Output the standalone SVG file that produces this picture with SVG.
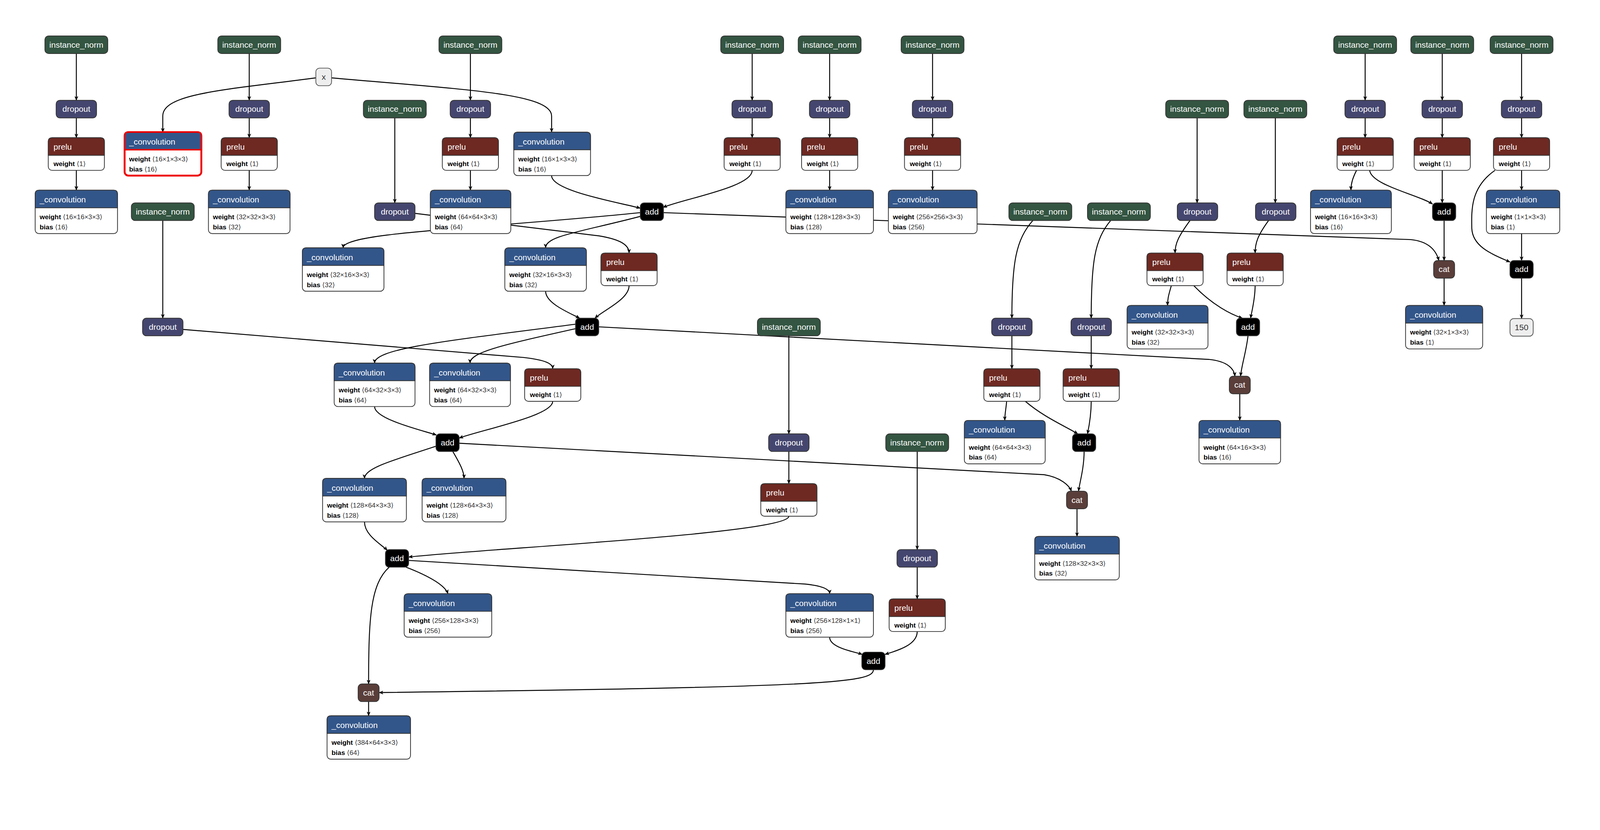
<svg xmlns="http://www.w3.org/2000/svg" width="4266" height="2124" viewBox="0 0 4266 2124">
<style>
text{font-family:"Liberation Sans","DejaVu Sans",sans-serif}
.n{font-size:22px;fill:#fff;text-anchor:middle}
.h{font-size:22px;fill:#fff}
.b{font-size:18px;fill:#333}
.b tspan.k{font-weight:bold;fill:#000}
.in{fill:#335541;stroke:#333;stroke-width:2}
.dr{fill:#45466f;stroke:#333;stroke-width:2}
.pr{fill:#6e2922;stroke:#333;stroke-width:2}
.cv{fill:#33568a;stroke:#333;stroke-width:2}
.ad{fill:#000;stroke:#333;stroke-width:2}
.ct{fill:#5a3e3a;stroke:#333;stroke-width:2}
.io{fill:#eee;stroke:#555;stroke-width:2}
.bd{fill:#fff;stroke:#333;stroke-width:2}
.red{fill:#fff;stroke:#e00;stroke-width:5}
.e path{fill:none;stroke:#000;stroke-width:2.5;marker-end:url(#ar)}
.gt{font-size:22px;fill:#333;text-anchor:middle}
</style>
<defs><marker id="ar" viewBox="0 0 12 10" refX="11" refY="5" markerWidth="12" markerHeight="10" markerUnits="userSpaceOnUse" orient="auto"><path d="M0,0 L12,5 L0,10 L3,5 z" fill="#000"/></marker></defs>
<g id="diagram" transform="scale(0.958)">
<g class="e">
<path d="M204,143 V268"/><path d="M204,315 V368"/><path d="M204,455 V508"/>
<path d="M666,143 V268"/><path d="M666,315 V368"/><path d="M666,455 V508"/>
<path d="M1257,143 V268"/><path d="M1257,315 V368"/><path d="M1257,455 V508"/>
<path d="M2010,143 V268"/><path d="M2010,315 V368"/>
<path d="M2217,143 V268"/><path d="M2217,315 V368"/><path d="M2217,455 V508"/>
<path d="M2492,143 V268"/><path d="M2492,315 V368"/><path d="M2492,455 V508"/>
<path d="M3648,143 V268"/><path d="M3648,315 V368"/>
<path d="M3854,143 V268"/><path d="M3854,315 V368"/><path d="M3854,455 V542"/>
<path d="M4066,143 V268"/><path d="M4066,315 V368"/><path d="M4066,455 V508"/>
<path d="M435,589 V850"/><path d="M1055,315 V542"/>
<path d="M3199,315 V542"/><path d="M3408,315 V542"/>
<path d="M2108,897 V1159"/><path d="M2108,1206 V1292"/>
<path d="M2451,1206 V1468"/><path d="M2451,1515 V1600"/>
<path d="M2704,897 V985"/><path d="M2916,897 V985"/>
<path d="M3859,589 V696"/><path d="M3859,743 V816"/>
<path d="M4066,624 V696"/><path d="M4066,743 V851"/>
<path d="M3313,1052 V1123"/><path d="M2878,1359 V1433"/><path d="M985,1873 V1912"/>
<path d="M844,208 C600,240 435,250 435,310 V353"/>
<path d="M886,208 C1250,240 1474,250 1474,310 V353"/>
<path d="M1474,469 C1474,510 1650,540 1711,556"/>
<path d="M2010,455 C2010,500 1830,530 1772,554"/>
<path d="M1711,568 C1300,610 917,620 917,662"/>
<path d="M1711,578 C1550,620 1458,630 1458,662"/>
<path d="M1772,568 L3770,640 C3820,645 3838,670 3845,696"/>
<path d="M1109,570 L1600,630 C1660,640 1681,655 1681,676"/>
<path d="M1458,778 C1458,810 1520,835 1549,850"/>
<path d="M1681,763 C1681,800 1610,830 1590,850"/>
<path d="M1538,866 C1200,910 1001,930 1001,970"/>
<path d="M1538,878 C1350,920 1256,940 1256,970"/>
<path d="M1600,873 L3230,960 C3280,965 3298,985 3300,1005"/>
<path d="M489,880 L1400,955 C1460,962 1477,972 1477,985"/>
<path d="M1001,1086 C1001,1120 1130,1150 1166,1162"/>
<path d="M1477,1072 C1477,1110 1300,1145 1227,1170"/>
<path d="M1165,1192 C1050,1230 974,1250 974,1278"/>
<path d="M1210,1206 C1230,1240 1240,1260 1240,1278"/>
<path d="M1227,1184 L2790,1268 C2835,1275 2858,1298 2863,1312"/>
<path d="M974,1394 C974,1430 1020,1455 1035,1470"/>
<path d="M2108,1379 C2108,1425 1300,1465 1092,1488"/>
<path d="M1085,1515 C1150,1540 1190,1565 1197,1586"/>
<path d="M1092,1497 L2150,1560 C2200,1565 2217,1575 2217,1586"/>
<path d="M1040,1515 C990,1560 985,1650 985,1827"/>
<path d="M2217,1702 C2217,1730 2280,1740 2304,1748"/>
<path d="M2451,1687 C2451,1725 2390,1740 2365,1748"/>
<path d="M2334,1789 C2334,1825 2200,1835 1013,1850"/>
<path d="M2760,589 C2715,640 2704,700 2704,850"/>
<path d="M2968,589 C2925,640 2916,700 2916,850"/>
<path d="M2690,1072 C2688,1095 2685,1105 2685,1123"/>
<path d="M2740,1072 C2790,1115 2850,1140 2880,1159"/>
<path d="M2916,1072 C2916,1110 2910,1140 2906,1159"/>
<path d="M2897,1206 C2897,1250 2885,1290 2882,1312"/>
<path d="M3180,589 C3150,630 3140,650 3140,676"/>
<path d="M3390,589 C3360,630 3354,650 3354,676"/>
<path d="M3130,763 C3124,785 3120,795 3120,816"/>
<path d="M3190,763 C3240,815 3290,840 3320,850"/>
<path d="M3354,763 C3354,800 3345,830 3342,850"/>
<path d="M3335,897 C3330,940 3318,975 3315,1005"/>
<path d="M3625,455 C3615,475 3610,490 3610,508"/>
<path d="M3660,455 C3665,495 3790,520 3828,545"/>
<path d="M3995,455 C3930,500 3932,560 3933,610 C3935,660 3990,680 4035,700"/>
</g>
<g id="in1"><rect class="in" x="120" y="96" width="168" height="47" rx="10"/><text class="n" x="204" y="127">instance_norm</text></g>
<g id="in2"><rect class="in" x="582" y="96" width="168" height="47" rx="10"/><text class="n" x="666" y="127">instance_norm</text></g>
<g id="in3"><rect class="in" x="1173" y="96" width="168" height="47" rx="10"/><text class="n" x="1257" y="127">instance_norm</text></g>
<g id="in4"><rect class="in" x="1926" y="96" width="168" height="47" rx="10"/><text class="n" x="2010" y="127">instance_norm</text></g>
<g id="in5"><rect class="in" x="2133" y="96" width="168" height="47" rx="10"/><text class="n" x="2217" y="127">instance_norm</text></g>
<g id="in6"><rect class="in" x="2408" y="96" width="168" height="47" rx="10"/><text class="n" x="2492" y="127">instance_norm</text></g>
<g id="in7"><rect class="in" x="3564" y="96" width="168" height="47" rx="10"/><text class="n" x="3648" y="127">instance_norm</text></g>
<g id="in8"><rect class="in" x="3770" y="96" width="168" height="47" rx="10"/><text class="n" x="3854" y="127">instance_norm</text></g>
<g id="in9"><rect class="in" x="3982" y="96" width="168" height="47" rx="10"/><text class="n" x="4066" y="127">instance_norm</text></g>
<g id="in10"><rect class="in" x="351" y="542" width="168" height="47" rx="10"/><text class="n" x="435" y="573">instance_norm</text></g>
<g id="in11"><rect class="in" x="971" y="268" width="168" height="47" rx="10"/><text class="n" x="1055" y="299">instance_norm</text></g>
<g id="in12"><rect class="in" x="3115" y="268" width="168" height="47" rx="10"/><text class="n" x="3199" y="299">instance_norm</text></g>
<g id="in13"><rect class="in" x="3324" y="268" width="168" height="47" rx="10"/><text class="n" x="3408" y="299">instance_norm</text></g>
<g id="in14"><rect class="in" x="2696" y="542" width="168" height="47" rx="10"/><text class="n" x="2780" y="573">instance_norm</text></g>
<g id="in15"><rect class="in" x="2906" y="542" width="168" height="47" rx="10"/><text class="n" x="2990" y="573">instance_norm</text></g>
<g id="in16"><rect class="in" x="2024" y="850" width="168" height="47" rx="10"/><text class="n" x="2108" y="881">instance_norm</text></g>
<g id="in17"><rect class="in" x="2367" y="1159" width="168" height="47" rx="10"/><text class="n" x="2451" y="1190">instance_norm</text></g>
<g id="d1"><rect class="dr" x="150" y="268" width="108" height="47" rx="10"/><text class="n" x="204" y="299">dropout</text></g>
<g id="d2"><rect class="dr" x="612" y="268" width="108" height="47" rx="10"/><text class="n" x="666" y="299">dropout</text></g>
<g id="d3"><rect class="dr" x="1203" y="268" width="108" height="47" rx="10"/><text class="n" x="1257" y="299">dropout</text></g>
<g id="d4"><rect class="dr" x="1956" y="268" width="108" height="47" rx="10"/><text class="n" x="2010" y="299">dropout</text></g>
<g id="d5"><rect class="dr" x="2163" y="268" width="108" height="47" rx="10"/><text class="n" x="2217" y="299">dropout</text></g>
<g id="d6"><rect class="dr" x="2438" y="268" width="108" height="47" rx="10"/><text class="n" x="2492" y="299">dropout</text></g>
<g id="d7"><rect class="dr" x="3594" y="268" width="108" height="47" rx="10"/><text class="n" x="3648" y="299">dropout</text></g>
<g id="d8"><rect class="dr" x="3800" y="268" width="108" height="47" rx="10"/><text class="n" x="3854" y="299">dropout</text></g>
<g id="d9"><rect class="dr" x="4012" y="268" width="108" height="47" rx="10"/><text class="n" x="4066" y="299">dropout</text></g>
<g id="d10"><rect class="dr" x="381" y="850" width="108" height="47" rx="10"/><text class="n" x="435" y="881">dropout</text></g>
<g id="d11"><rect class="dr" x="1001" y="542" width="108" height="47" rx="10"/><text class="n" x="1055" y="573">dropout</text></g>
<g id="d12"><rect class="dr" x="3146" y="542" width="108" height="47" rx="10"/><text class="n" x="3200" y="573">dropout</text></g>
<g id="d13"><rect class="dr" x="3355" y="542" width="108" height="47" rx="10"/><text class="n" x="3409" y="573">dropout</text></g>
<g id="d14"><rect class="dr" x="2650" y="850" width="108" height="47" rx="10"/><text class="n" x="2704" y="881">dropout</text></g>
<g id="d15"><rect class="dr" x="2862" y="850" width="108" height="47" rx="10"/><text class="n" x="2916" y="881">dropout</text></g>
<g id="d16"><rect class="dr" x="2054" y="1159" width="108" height="47" rx="10"/><text class="n" x="2108" y="1190">dropout</text></g>
<g id="d17"><rect class="dr" x="2397" y="1468" width="108" height="47" rx="10"/><text class="n" x="2451" y="1499">dropout</text></g>
<g id="p1"><rect class="bd" x="129" y="368" width="150" height="87" rx="10"/><path class="pr" d="M129,415 v-37 q0,-10 10,-10 h130 q10,0 10,10 v37 z"/><text class="h" x="143" y="400">prelu</text><text class="b" x="143" y="444"><tspan class="k">weight</tspan> ⟨1⟩</text></g>
<g id="p2"><rect class="bd" x="591" y="368" width="150" height="87" rx="10"/><path class="pr" d="M591,415 v-37 q0,-10 10,-10 h130 q10,0 10,10 v37 z"/><text class="h" x="605" y="400">prelu</text><text class="b" x="605" y="444"><tspan class="k">weight</tspan> ⟨1⟩</text></g>
<g id="p3"><rect class="bd" x="1182" y="368" width="150" height="87" rx="10"/><path class="pr" d="M1182,415 v-37 q0,-10 10,-10 h130 q10,0 10,10 v37 z"/><text class="h" x="1196" y="400">prelu</text><text class="b" x="1196" y="444"><tspan class="k">weight</tspan> ⟨1⟩</text></g>
<g id="p4"><rect class="bd" x="1935" y="368" width="150" height="87" rx="10"/><path class="pr" d="M1935,415 v-37 q0,-10 10,-10 h130 q10,0 10,10 v37 z"/><text class="h" x="1949" y="400">prelu</text><text class="b" x="1949" y="444"><tspan class="k">weight</tspan> ⟨1⟩</text></g>
<g id="p5"><rect class="bd" x="2142" y="368" width="150" height="87" rx="10"/><path class="pr" d="M2142,415 v-37 q0,-10 10,-10 h130 q10,0 10,10 v37 z"/><text class="h" x="2156" y="400">prelu</text><text class="b" x="2156" y="444"><tspan class="k">weight</tspan> ⟨1⟩</text></g>
<g id="p6"><rect class="bd" x="2417" y="368" width="150" height="87" rx="10"/><path class="pr" d="M2417,415 v-37 q0,-10 10,-10 h130 q10,0 10,10 v37 z"/><text class="h" x="2431" y="400">prelu</text><text class="b" x="2431" y="444"><tspan class="k">weight</tspan> ⟨1⟩</text></g>
<g id="p7"><rect class="bd" x="3573" y="368" width="150" height="87" rx="10"/><path class="pr" d="M3573,415 v-37 q0,-10 10,-10 h130 q10,0 10,10 v37 z"/><text class="h" x="3587" y="400">prelu</text><text class="b" x="3587" y="444"><tspan class="k">weight</tspan> ⟨1⟩</text></g>
<g id="p8"><rect class="bd" x="3779" y="368" width="150" height="87" rx="10"/><path class="pr" d="M3779,415 v-37 q0,-10 10,-10 h130 q10,0 10,10 v37 z"/><text class="h" x="3793" y="400">prelu</text><text class="b" x="3793" y="444"><tspan class="k">weight</tspan> ⟨1⟩</text></g>
<g id="p9"><rect class="bd" x="3991" y="368" width="150" height="87" rx="10"/><path class="pr" d="M3991,415 v-37 q0,-10 10,-10 h130 q10,0 10,10 v37 z"/><text class="h" x="4005" y="400">prelu</text><text class="b" x="4005" y="444"><tspan class="k">weight</tspan> ⟨1⟩</text></g>
<g id="p10"><rect class="bd" x="1402" y="985" width="150" height="87" rx="10"/><path class="pr" d="M1402,1032 v-37 q0,-10 10,-10 h130 q10,0 10,10 v37 z"/><text class="h" x="1416" y="1017">prelu</text><text class="b" x="1416" y="1061"><tspan class="k">weight</tspan> ⟨1⟩</text></g>
<g id="p11"><rect class="bd" x="1606" y="676" width="150" height="87" rx="10"/><path class="pr" d="M1606,723 v-37 q0,-10 10,-10 h130 q10,0 10,10 v37 z"/><text class="h" x="1620" y="708">prelu</text><text class="b" x="1620" y="752"><tspan class="k">weight</tspan> ⟨1⟩</text></g>
<g id="p12"><rect class="bd" x="3065" y="676" width="150" height="87" rx="10"/><path class="pr" d="M3065,723 v-37 q0,-10 10,-10 h130 q10,0 10,10 v37 z"/><text class="h" x="3079" y="708">prelu</text><text class="b" x="3079" y="752"><tspan class="k">weight</tspan> ⟨1⟩</text></g>
<g id="p13"><rect class="bd" x="3279" y="676" width="150" height="87" rx="10"/><path class="pr" d="M3279,723 v-37 q0,-10 10,-10 h130 q10,0 10,10 v37 z"/><text class="h" x="3293" y="708">prelu</text><text class="b" x="3293" y="752"><tspan class="k">weight</tspan> ⟨1⟩</text></g>
<g id="p14"><rect class="bd" x="2629" y="985" width="150" height="87" rx="10"/><path class="pr" d="M2629,1032 v-37 q0,-10 10,-10 h130 q10,0 10,10 v37 z"/><text class="h" x="2643" y="1017">prelu</text><text class="b" x="2643" y="1061"><tspan class="k">weight</tspan> ⟨1⟩</text></g>
<g id="p15"><rect class="bd" x="2841" y="985" width="150" height="87" rx="10"/><path class="pr" d="M2841,1032 v-37 q0,-10 10,-10 h130 q10,0 10,10 v37 z"/><text class="h" x="2855" y="1017">prelu</text><text class="b" x="2855" y="1061"><tspan class="k">weight</tspan> ⟨1⟩</text></g>
<g id="p16"><rect class="bd" x="2033" y="1292" width="150" height="87" rx="10"/><path class="pr" d="M2033,1339 v-37 q0,-10 10,-10 h130 q10,0 10,10 v37 z"/><text class="h" x="2047" y="1324">prelu</text><text class="b" x="2047" y="1368"><tspan class="k">weight</tspan> ⟨1⟩</text></g>
<g id="p17"><rect class="bd" x="2376" y="1600" width="150" height="87" rx="10"/><path class="pr" d="M2376,1647 v-37 q0,-10 10,-10 h130 q10,0 10,10 v37 z"/><text class="h" x="2390" y="1632">prelu</text><text class="b" x="2390" y="1676"><tspan class="k">weight</tspan> ⟨1⟩</text></g>
<g id="c1"><rect class="bd" x="94" y="508" width="220" height="116" rx="10"/><path class="cv" d="M94,555 v-37 q0,-10 10,-10 h200 q10,0 10,10 v37 z"/><text class="h" x="106" y="541">_convolution</text><text class="b" x="106" y="586"><tspan class="k">weight</tspan> ⟨16×16×3×3⟩</text><text class="b" x="106" y="613"><tspan class="k">bias</tspan> ⟨16⟩</text></g>
<g id="cred"><rect class="red" x="333" y="353" width="205" height="116" rx="10"/><path class="cv" style="stroke:#e00;stroke-width:4" d="M333,400 v-37 q0,-10 10,-10 h185 q10,0 10,10 v37 z"/><text class="h" x="345" y="386">_convolution</text><text class="b" x="345" y="431"><tspan class="k">weight</tspan> ⟨16×1×3×3⟩</text><text class="b" x="345" y="458"><tspan class="k">bias</tspan> ⟨16⟩</text></g>
<g id="c2"><rect class="bd" x="557" y="508" width="218" height="116" rx="10"/><path class="cv" d="M557,555 v-37 q0,-10 10,-10 h198 q10,0 10,10 v37 z"/><text class="h" x="569" y="541">_convolution</text><text class="b" x="569" y="586"><tspan class="k">weight</tspan> ⟨32×32×3×3⟩</text><text class="b" x="569" y="613"><tspan class="k">bias</tspan> ⟨32⟩</text></g>
<g id="cx2"><rect class="bd" x="1373" y="353" width="205" height="116" rx="10"/><path class="cv" d="M1373,400 v-37 q0,-10 10,-10 h185 q10,0 10,10 v37 z"/><text class="h" x="1385" y="386">_convolution</text><text class="b" x="1385" y="431"><tspan class="k">weight</tspan> ⟨16×1×3×3⟩</text><text class="b" x="1385" y="458"><tspan class="k">bias</tspan> ⟨16⟩</text></g>
<g id="c3"><rect class="bd" x="1150" y="508" width="215" height="116" rx="10"/><path class="cv" d="M1150,555 v-37 q0,-10 10,-10 h195 q10,0 10,10 v37 z"/><text class="h" x="1162" y="541">_convolution</text><text class="b" x="1162" y="586"><tspan class="k">weight</tspan> ⟨64×64×3×3⟩</text><text class="b" x="1162" y="613"><tspan class="k">bias</tspan> ⟨64⟩</text></g>
<g id="c4"><rect class="bd" x="2100" y="508" width="234" height="116" rx="10"/><path class="cv" d="M2100,555 v-37 q0,-10 10,-10 h214 q10,0 10,10 v37 z"/><text class="h" x="2112" y="541">_convolution</text><text class="b" x="2112" y="586"><tspan class="k">weight</tspan> ⟨128×128×3×3⟩</text><text class="b" x="2112" y="613"><tspan class="k">bias</tspan> ⟨128⟩</text></g>
<g id="c5"><rect class="bd" x="2374" y="508" width="237" height="116" rx="10"/><path class="cv" d="M2374,555 v-37 q0,-10 10,-10 h217 q10,0 10,10 v37 z"/><text class="h" x="2386" y="541">_convolution</text><text class="b" x="2386" y="586"><tspan class="k">weight</tspan> ⟨256×256×3×3⟩</text><text class="b" x="2386" y="613"><tspan class="k">bias</tspan> ⟨256⟩</text></g>
<g id="c6"><rect class="bd" x="3502" y="508" width="216" height="116" rx="10"/><path class="cv" d="M3502,555 v-37 q0,-10 10,-10 h196 q10,0 10,10 v37 z"/><text class="h" x="3514" y="541">_convolution</text><text class="b" x="3514" y="586"><tspan class="k">weight</tspan> ⟨16×16×3×3⟩</text><text class="b" x="3514" y="613"><tspan class="k">bias</tspan> ⟨16⟩</text></g>
<g id="c7"><rect class="bd" x="3972" y="508" width="196" height="116" rx="10"/><path class="cv" d="M3972,555 v-37 q0,-10 10,-10 h176 q10,0 10,10 v37 z"/><text class="h" x="3984" y="541">_convolution</text><text class="b" x="3984" y="586"><tspan class="k">weight</tspan> ⟨1×1×3×3⟩</text><text class="b" x="3984" y="613"><tspan class="k">bias</tspan> ⟨1⟩</text></g>
<g id="c8"><rect class="bd" x="808" y="662" width="218" height="116" rx="10"/><path class="cv" d="M808,709 v-37 q0,-10 10,-10 h198 q10,0 10,10 v37 z"/><text class="h" x="820" y="695">_convolution</text><text class="b" x="820" y="740"><tspan class="k">weight</tspan> ⟨32×16×3×3⟩</text><text class="b" x="820" y="767"><tspan class="k">bias</tspan> ⟨32⟩</text></g>
<g id="c9"><rect class="bd" x="1349" y="662" width="218" height="116" rx="10"/><path class="cv" d="M1349,709 v-37 q0,-10 10,-10 h198 q10,0 10,10 v37 z"/><text class="h" x="1361" y="695">_convolution</text><text class="b" x="1361" y="740"><tspan class="k">weight</tspan> ⟨32×16×3×3⟩</text><text class="b" x="1361" y="767"><tspan class="k">bias</tspan> ⟨32⟩</text></g>
<g id="c10"><rect class="bd" x="3012" y="816" width="216" height="116" rx="10"/><path class="cv" d="M3012,863 v-37 q0,-10 10,-10 h196 q10,0 10,10 v37 z"/><text class="h" x="3024" y="849">_convolution</text><text class="b" x="3024" y="894"><tspan class="k">weight</tspan> ⟨32×32×3×3⟩</text><text class="b" x="3024" y="921"><tspan class="k">bias</tspan> ⟨32⟩</text></g>
<g id="c11"><rect class="bd" x="3756" y="816" width="206" height="116" rx="10"/><path class="cv" d="M3756,863 v-37 q0,-10 10,-10 h186 q10,0 10,10 v37 z"/><text class="h" x="3768" y="849">_convolution</text><text class="b" x="3768" y="894"><tspan class="k">weight</tspan> ⟨32×1×3×3⟩</text><text class="b" x="3768" y="921"><tspan class="k">bias</tspan> ⟨1⟩</text></g>
<g id="c12"><rect class="bd" x="893" y="970" width="216" height="116" rx="10"/><path class="cv" d="M893,1017 v-37 q0,-10 10,-10 h196 q10,0 10,10 v37 z"/><text class="h" x="905" y="1003">_convolution</text><text class="b" x="905" y="1048"><tspan class="k">weight</tspan> ⟨64×32×3×3⟩</text><text class="b" x="905" y="1075"><tspan class="k">bias</tspan> ⟨64⟩</text></g>
<g id="c13"><rect class="bd" x="1148" y="970" width="216" height="116" rx="10"/><path class="cv" d="M1148,1017 v-37 q0,-10 10,-10 h196 q10,0 10,10 v37 z"/><text class="h" x="1160" y="1003">_convolution</text><text class="b" x="1160" y="1048"><tspan class="k">weight</tspan> ⟨64×32×3×3⟩</text><text class="b" x="1160" y="1075"><tspan class="k">bias</tspan> ⟨64⟩</text></g>
<g id="c14"><rect class="bd" x="2577" y="1123" width="216" height="116" rx="10"/><path class="cv" d="M2577,1170 v-37 q0,-10 10,-10 h196 q10,0 10,10 v37 z"/><text class="h" x="2589" y="1156">_convolution</text><text class="b" x="2589" y="1201"><tspan class="k">weight</tspan> ⟨64×64×3×3⟩</text><text class="b" x="2589" y="1228"><tspan class="k">bias</tspan> ⟨64⟩</text></g>
<g id="c15"><rect class="bd" x="3204" y="1123" width="218" height="116" rx="10"/><path class="cv" d="M3204,1170 v-37 q0,-10 10,-10 h198 q10,0 10,10 v37 z"/><text class="h" x="3216" y="1156">_convolution</text><text class="b" x="3216" y="1201"><tspan class="k">weight</tspan> ⟨64×16×3×3⟩</text><text class="b" x="3216" y="1228"><tspan class="k">bias</tspan> ⟨16⟩</text></g>
<g id="c16"><rect class="bd" x="862" y="1278" width="224" height="116" rx="10"/><path class="cv" d="M862,1325 v-37 q0,-10 10,-10 h204 q10,0 10,10 v37 z"/><text class="h" x="874" y="1311">_convolution</text><text class="b" x="874" y="1356"><tspan class="k">weight</tspan> ⟨128×64×3×3⟩</text><text class="b" x="874" y="1383"><tspan class="k">bias</tspan> ⟨128⟩</text></g>
<g id="c17"><rect class="bd" x="1128" y="1278" width="224" height="116" rx="10"/><path class="cv" d="M1128,1325 v-37 q0,-10 10,-10 h204 q10,0 10,10 v37 z"/><text class="h" x="1140" y="1311">_convolution</text><text class="b" x="1140" y="1356"><tspan class="k">weight</tspan> ⟨128×64×3×3⟩</text><text class="b" x="1140" y="1383"><tspan class="k">bias</tspan> ⟨128⟩</text></g>
<g id="c18"><rect class="bd" x="2765" y="1433" width="226" height="116" rx="10"/><path class="cv" d="M2765,1480 v-37 q0,-10 10,-10 h206 q10,0 10,10 v37 z"/><text class="h" x="2777" y="1466">_convolution</text><text class="b" x="2777" y="1511"><tspan class="k">weight</tspan> ⟨128×32×3×3⟩</text><text class="b" x="2777" y="1538"><tspan class="k">bias</tspan> ⟨32⟩</text></g>
<g id="c19"><rect class="bd" x="1080" y="1586" width="234" height="116" rx="10"/><path class="cv" d="M1080,1633 v-37 q0,-10 10,-10 h214 q10,0 10,10 v37 z"/><text class="h" x="1092" y="1619">_convolution</text><text class="b" x="1092" y="1664"><tspan class="k">weight</tspan> ⟨256×128×3×3⟩</text><text class="b" x="1092" y="1691"><tspan class="k">bias</tspan> ⟨256⟩</text></g>
<g id="c20"><rect class="bd" x="2100" y="1586" width="234" height="116" rx="10"/><path class="cv" d="M2100,1633 v-37 q0,-10 10,-10 h214 q10,0 10,10 v37 z"/><text class="h" x="2112" y="1619">_convolution</text><text class="b" x="2112" y="1664"><tspan class="k">weight</tspan> ⟨256×128×1×1⟩</text><text class="b" x="2112" y="1691"><tspan class="k">bias</tspan> ⟨256⟩</text></g>
<g id="c21"><rect class="bd" x="874" y="1912" width="223" height="116" rx="10"/><path class="cv" d="M874,1959 v-37 q0,-10 10,-10 h203 q10,0 10,10 v37 z"/><text class="h" x="886" y="1945">_convolution</text><text class="b" x="886" y="1990"><tspan class="k">weight</tspan> ⟨384×64×3×3⟩</text><text class="b" x="886" y="2017"><tspan class="k">bias</tspan> ⟨64⟩</text></g>
<g id="a1"><rect class="ad" x="1711" y="542" width="62" height="47" rx="10"/><text class="n" x="1742" y="573">add</text></g>
<g id="a2"><rect class="ad" x="1538" y="850" width="62" height="47" rx="10"/><text class="n" x="1569" y="881">add</text></g>
<g id="a3"><rect class="ad" x="1165" y="1159" width="62" height="47" rx="10"/><text class="n" x="1196" y="1190">add</text></g>
<g id="a4"><rect class="ad" x="1030" y="1468" width="62" height="47" rx="10"/><text class="n" x="1061" y="1499">add</text></g>
<g id="a5"><rect class="ad" x="2303" y="1742" width="62" height="47" rx="10"/><text class="n" x="2334" y="1773">add</text></g>
<g id="a6"><rect class="ad" x="2866" y="1159" width="62" height="47" rx="10"/><text class="n" x="2897" y="1190">add</text></g>
<g id="a7"><rect class="ad" x="3304" y="850" width="62" height="47" rx="10"/><text class="n" x="3335" y="881">add</text></g>
<g id="a8"><rect class="ad" x="3828" y="542" width="62" height="47" rx="10"/><text class="n" x="3859" y="573">add</text></g>
<g id="a9"><rect class="ad" x="4035" y="696" width="62" height="47" rx="10"/><text class="n" x="4066" y="727">add</text></g>
<g id="cat1"><rect class="ct" x="3831" y="696" width="56" height="47" rx="10"/><text class="n" x="3859" y="727">cat</text></g>
<g id="cat2"><rect class="ct" x="3285" y="1005" width="56" height="47" rx="10"/><text class="n" x="3313" y="1036">cat</text></g>
<g id="cat3"><rect class="ct" x="2850" y="1312" width="56" height="47" rx="10"/><text class="n" x="2878" y="1343">cat</text></g>
<g id="cat4"><rect class="ct" x="957" y="1827" width="56" height="47" rx="10"/><text class="n" x="985" y="1858">cat</text></g>
<g id="x"><rect class="io" x="844" y="182" width="42" height="47" rx="10"/><text class="gt" x="865" y="213">x</text></g>
<g id="out150"><rect class="io" x="4035" y="851" width="62" height="47" rx="10"/><text class="gt" x="4066" y="882">150</text></g>
</g>
</svg>
